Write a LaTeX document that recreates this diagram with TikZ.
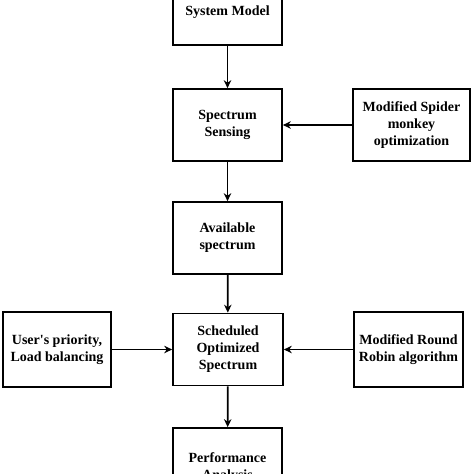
\documentclass[tikz,border=0pt]{standalone}
\usepackage{fontspec}
\setmainfont{Liberation Serif}
\usetikzlibrary{arrows.meta}
\begin{document}
\begin{tikzpicture}[x=1pt,y=-1pt,
  box/.style={draw=black, line width=1.7pt, fill=white, align=center, inner sep=0pt,
    font=\fontsize{14}{17}\selectfont\bfseries, minimum height=72pt},
  arr/.style={line width=1.7pt, -{Stealth[length=8pt,width=7.5pt]}}]
\useasboundingbox (0,0) rectangle (474,474);
\clip (0,0) rectangle (474,474);
\fill[white] (0,0) rectangle (474,474);
\node[box, minimum width=109pt, minimum height=66pt] (sys) at (227.5,12) {System Model};
\node[box, minimum width=109pt] (sens) at (227.5,125) {Spectrum\\Sensing};
\node[box, minimum width=117pt] (smo) at (411.5,125) {Modified Spider\\monkey\\optimization};
\node[box, minimum width=109pt] (avail) at (227.5,238) {Available\\spectrum};
\node[box, minimum width=110pt] (sched) at (228,349.5) {Scheduled\\Optimized\\Spectrum};
\node[box, minimum width=108pt, minimum height=75pt] (user) at (57,349.5) {User\textquotesingle s priority,\\Load balancing};
\node[box, minimum width=109pt, minimum height=75pt] (rr) at (408.5,349.5) {Modified Round\\Robin algorithm};
\node[box, minimum width=109pt, minimum height=80pt] (perf) at (227.5,468) {Performance\\Analysis};
\draw[arr] (sys) -- (sens);
\draw[arr] (smo) -- (sens);
\draw[arr] (sens) -- (avail);
\draw[arr] (avail) -- (sched);
\draw[arr] (user) -- (sched);
\draw[arr] (rr) -- (sched);
\draw[arr] (sched) -- (perf);
\end{tikzpicture}
\end{document}
